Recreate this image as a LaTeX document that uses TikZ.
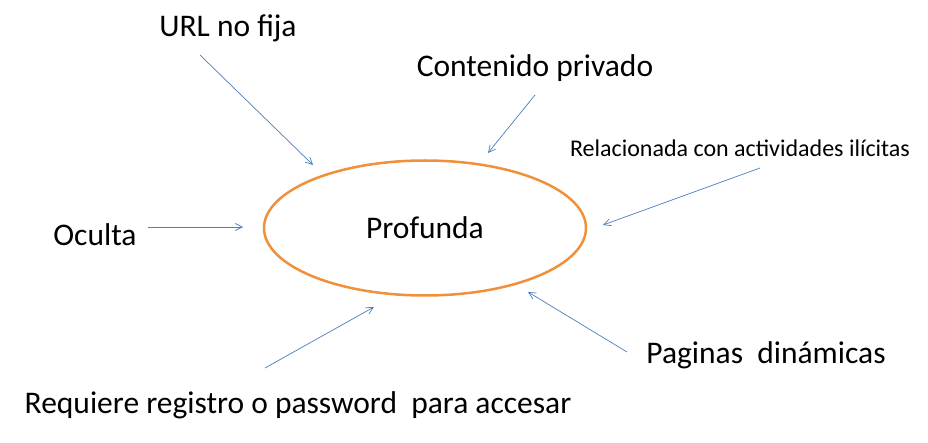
\documentclass[tikz,border=0pt]{standalone}
\usepackage{fontspec}
\setmainfont{Carlito}
\usetikzlibrary{arrows.meta,shapes.geometric}
\definecolor{orng}{HTML}{F0903A}
\definecolor{arr}{HTML}{4A7EBB}
\begin{document}
\begin{tikzpicture}[x=1pt,y=-1pt,
  lbl/.style={font=\fontsize{31.5}{36}\selectfont,inner sep=0},
  arrw/.style={draw=arr,line width=0.7pt,-{Straight Barb[length=7pt,width=7pt]}}]
\useasboundingbox (0,0) rectangle (928,443);
\node[draw=orng,line width=2.5pt,ellipse,minimum width=322pt,minimum height=135pt,
  font=\fontsize{31.5}{36}\selectfont] (p) at (425,228) {Profunda};
\node[lbl] (u) at (228,28) {URL no fija};
\node[lbl] (c) at (535,68) {Contenido privado};
\node[inner sep=0,font=\fontsize{24}{28}\selectfont] (r) at (740,148) {Relacionada con actividades ilícitas};
\node[lbl] (o) at (95,235) {Oculta};
\node[lbl] (d) at (766,355) {Paginas\ \ dinámicas};
\node[lbl] (q) at (298,405) {Requiere registro o password\ \ para accesar};
\coordinate (u1) at (200,55); \coordinate (u2) at (313,165);
\coordinate (c1) at (535,95); \coordinate (c2) at (488,153);
\coordinate (r1) at (760,168); \coordinate (r2) at (603,225);
\coordinate (o1) at (148,227); \coordinate (o2) at (243,227);
\coordinate (d1) at (627,352); \coordinate (d2) at (528,292);
\coordinate (q1) at (265,368); \coordinate (q2) at (374,307);
\draw[arrw] (u1) -- (u2);
\draw[arrw] (c1) -- (c2);
\draw[arrw] (r1) -- (r2);
\draw[arrw] (o1) -- (o2);
\draw[arrw] (d1) -- (d2);
\draw[arrw] (q1) -- (q2);
\end{tikzpicture}
\end{document}
